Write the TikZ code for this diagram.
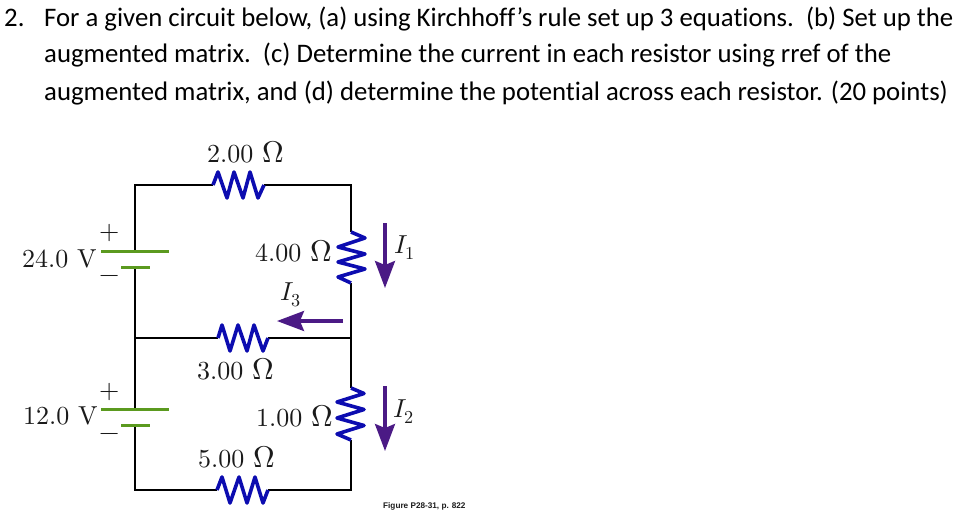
\documentclass[tikz,border=0pt]{standalone}
\usepackage{fontspec}
\usepackage{unicode-math}
\setmainfont{lmroman10-regular.otf}
\setmathfont{Latin Modern Math}
\setsansfont{Carlito}[Ligatures=NoCommon]
\newfontfamily\figfont{Liberation Sans}
\usetikzlibrary{arrows.meta}
\definecolor{wireblue}{HTML}{0C0CB0}
\definecolor{plategreen}{HTML}{5B9A1F}
\definecolor{arrowpurple}{HTML}{4B1A85}
\definecolor{labelgray}{HTML}{1A1A1A}
\newcommand{\ohmsign}{{\fontsize{30}{30}\selectfont$\Omega$}}
\tikzset{
    question/.style={anchor=base west, inner sep=0pt, font=\sffamily\fontsize{26.75}{30}\selectfont, text=black},
    label/.style={anchor=base west, inner sep=0pt, font=\fontsize{26}{30}\selectfont, text=labelgray},
    wire/.style={black, line width=2.6pt, line join=miter},
    resistor/.style={wireblue, line width=3.6pt, line join=round},
    plate/.style={plategreen, line width=3pt},
    current/.style={arrowpurple, line width=3.2pt, -{Stealth[length=27pt,width=20pt,inset=4pt]}}
}
\begin{document}
\begin{tikzpicture}[x=1pt,y=-1pt]
    \useasboundingbox (0,0) rectangle (956,514);

    % Question text
    \node[question] (num) at (4,27) {2.};
    \node[question] (lineone) at (44,27) {For a given circuit below, (a) using Kirchhoff’s rule set up 3 equations.\ \ (b) Set up the};
    \node[question] (linetwo) at (44,62) {augmented matrix.\ \ (c) Determine the current in each resistor using rref of the};
    \node[question] (linethree) at (44,100) {augmented matrix, and (d) determine the potential across each resistor. (20 points)};

    % Circuit corners and junctions
    \coordinate (topleft) at (135,185);
    \coordinate (topright) at (351,185);
    \coordinate (midleft) at (135,338);
    \coordinate (midright) at (351,338);
    \coordinate (botleft) at (135,490);
    \coordinate (botright) at (351,490);

    % Battery contacts
    \coordinate (batAplus) at (135,251.5);
    \coordinate (batAminus) at (135,267);
    \coordinate (batBplus) at (135,409.5);
    \coordinate (batBminus) at (135,425.5);

    % Resistor ends
    \coordinate (rtopa) at (213,185);
    \coordinate (rtopb) at (264,185);
    \coordinate (rmida) at (218,338);
    \coordinate (rmidb) at (268,338);
    \coordinate (rbota) at (217,490);
    \coordinate (rbotb) at (268,490);
    \coordinate (ronea) at (351,232);
    \coordinate (roneb) at (351,283);
    \coordinate (rtwoa) at (351,388);
    \coordinate (rtwob) at (351,440);

    % Wires
    \draw[wire] (batAplus) -- (topleft) -- (rtopa);
    \draw[wire] (rtopb) -- (topright) -- (ronea);
    \draw[wire] (roneb) -- (midright) -- (rmidb);
    \draw[wire] (rmida) -- (midleft);
    \draw[wire] (batAminus) -- (midleft) -- (batBplus);
    \draw[wire] (midright) -- (rtwoa);
    \draw[wire] (rtwob) -- (botright) -- (rbotb);
    \draw[wire] (rbota) -- (botleft) -- (batBminus);

    % Battery plates
    \draw[plate] (101,251.5) -- (169,251.5);
    \draw[plate] (121,267) -- (150,267);
    \draw[plate] (101,409.5) -- (169,409.5);
    \draw[plate] (121,425.5) -- (150,425.5);

    % Resistors
    \draw[resistor] (rtopa) -- (218,172) -- (227,198) -- (234,172) -- (243,198) -- (250,172) -- (258,198) -- (rtopb);
    \draw[resistor] (rmida) -- (222,325) -- (230,351) -- (238,325) -- (247,351) -- (254,325) -- (263,351) -- (rmidb);
    \draw[resistor] (rbota) -- (222,477) -- (230,503) -- (239,477) -- (247,503) -- (255,477) -- (263,503) -- (rbotb);
    \draw[resistor] (ronea) -- (365,238) -- (338,247) -- (365,254) -- (338,262) -- (365,269) -- (338,277) -- (roneb);
    \draw[resistor] (rtwoa) -- (364,393.5) -- (337,402) -- (364,409.5) -- (337,418) -- (364,425.5) -- (337,434) -- (rtwob);

    % Current arrows
    \coordinate (ionea) at (385,223);
    \coordinate (ioneb) at (385,288);
    \coordinate (itwoa) at (385,386);
    \coordinate (itwob) at (385,451);
    \coordinate (ithreea) at (343,321);
    \coordinate (ithreeb) at (277,321);
    \draw[current] (ionea) -- (ioneb);
    \draw[current] (itwoa) -- (itwob);
    \draw[current] (ithreea) -- (ithreeb);

    % Labels
    \node[label] (vA) at (22,267) {24.0 V};
    \node[label] (vB) at (23,424) {12.0 V};
    \node[label, anchor=center] (plusA) at (110,233) {$+$};
    \node[label, anchor=center] (minusA) at (110,279) {$-$};
    \node[label, anchor=center] (plusB) at (110,392) {$+$};
    \node[label, anchor=center] (minusB) at (110,437) {$-$};
    \node[label] (rtwoohm) at (207,162) {2.00 \ohmsign};
    \node[label] (rfourohm) at (255,261) {4.00 \ohmsign};
    \node[label] (rthreeohm) at (197,379) {3.00 \ohmsign};
    \node[label] (roneohm) at (256,426) {1.00 \ohmsign};
    \node[label] (rfiveohm) at (198,467) {5.00 \ohmsign};
    \node[label] (ione) at (394,253) {$I_1$};
    \node[label] (itwo) at (393,417) {$I_2$};
    \node[label] (ithree) at (280,300) {$I_3$};

    % Figure reference
    \node[anchor=base west, inner sep=0pt, font=\figfont\bfseries\fontsize{8.2}{10}\selectfont, text=labelgray] (figref) at (383,508) {Figure P28-31, p. 822};
\end{tikzpicture}
\end{document}
